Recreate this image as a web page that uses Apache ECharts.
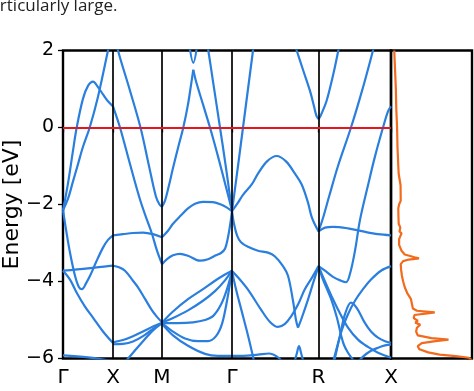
<!DOCTYPE html>
<html>
<head>
<meta charset="utf-8">
<script src="https://cdn.jsdelivr.net/npm/echarts@6/dist/echarts.min.js"></script>
<style>html,body{margin:0;padding:0;background:#fff;}#c{width:474px;height:391px;}</style>
</head>
<body>
<div id="c"></div>
<script>
// ---- data ----
const kTicks = [0, 0.5, 0.99, 1.69, 2.555, 3.28];
const kLabels = ['Γ', 'X', 'M', 'Γ', 'R', 'X'];
const energyTicks = [-6, -4, -2, 0, 2];
const fermiLevel = 0;

// Γ – X
const segGX = [
  [[0,-2.15],[0.05,-1.85],[0.1,-1.4],[0.15,-0.95],[0.2,-0.5],[0.267,0],[0.35,0.8],[0.45,2.0],[0.5,2.6]],
  [[0,-2.15],[0.05,-1.45],[0.1,-0.6],[0.137,0],[0.2,0.75],[0.25,1.08],[0.3,1.19],[0.35,1.05],[0.4,0.86],[0.45,0.68],[0.5,0.55]],
  [[0,-2.15],[0.03,-2.65],[0.07,-3.25],[0.12,-3.85],[0.16,-4.15],[0.19,-4.2],[0.23,-4.05],[0.28,-3.8],[0.33,-3.5],[0.4,-3.12],[0.45,-2.92],[0.5,-2.8]],
  [[0,-3.72],[0.25,-3.66],[0.45,-3.6],[0.5,-3.59]],
  [[0,-3.72],[0.07,-3.95],[0.137,-4.29],[0.22,-4.65],[0.303,-4.95],[0.4,-5.3],[0.5,-5.6]],
  [[0,-5.92],[0.25,-5.97],[0.5,-6.07]]
];
// X – M
const segXM = [
  [[0.5,2.6],[0.55,2.0],[0.665,1.0],[0.775,0],[0.86,-1.0],[0.93,-1.8],[0.965,-2.0],[0.99,-2.06]],
  [[0.5,0.55],[0.57,0],[0.67,-0.95],[0.77,-1.87],[0.837,-2.38],[0.887,-2.74],[0.94,-3.2],[0.99,-3.55]],
  [[0.5,-2.8],[0.6,-2.77],[0.7,-2.74],[0.8,-2.73],[0.9,-2.77],[0.99,-2.85]],
  [[0.5,-3.59],[0.56,-3.63],[0.62,-3.72],[0.7,-3.98],[0.75,-4.15],[0.82,-4.45],[0.885,-4.73],[0.94,-4.92],[0.99,-5.06]],
  [[0.5,-5.58],[0.6,-5.52],[0.7,-5.42],[0.8,-5.3],[0.9,-5.17],[0.99,-5.07]],
  [[0.5,-5.63],[0.6,-5.62],[0.7,-5.56],[0.8,-5.42],[0.9,-5.23],[0.99,-5.08]],
  [[0.5,-6.4],[0.6,-6.15],[0.7,-5.85],[0.8,-5.55],[0.9,-5.27],[0.99,-5.08]]
];
// M – Γ
const segMG = [
  [[0.99,-2.06],[1.02,-1.9],[1.06,-1.5],[1.1,-1.05],[1.15,-0.53],[1.203,0],[1.25,0.6],[1.28,1.1],[1.303,1.5]],
  [[1.303,1.5],[1.33,1.2],[1.4,0.6],[1.47,0],[1.55,-0.75],[1.62,-1.45],[1.66,-1.85],[1.69,-2.17]],
  [[1.26,2.2],[1.303,1.68],[1.345,2.2]],
  [[1.42,2.5],[1.453,2.0],[1.5,1.2],[1.57,0],[1.63,-1.05],[1.69,-2.17]],
  [[0.99,-2.85],[1.05,-2.68],[1.1,-2.5],[1.18,-2.28],[1.25,-2.1],[1.32,-1.98],[1.4,-1.93],[1.5,-1.94],[1.58,-2.0],[1.64,-2.08],[1.69,-2.17]],
  [[0.99,-3.55],[1.04,-3.42],[1.1,-3.32],[1.17,-3.28],[1.25,-3.33],[1.37,-3.46],[1.45,-3.42],[1.53,-3.32],[1.58,-3.26],[1.62,-3.15],[1.65,-2.85],[1.67,-2.55],[1.69,-2.17]],
  [[0.99,-5.07],[1.1,-4.78],[1.25,-4.46],[1.4,-4.2],[1.52,-3.98],[1.62,-3.82],[1.69,-3.72]],
  [[0.99,-5.07],[1.1,-4.95],[1.25,-4.75],[1.4,-4.5],[1.52,-4.25],[1.62,-3.97],[1.69,-3.72]],
  [[0.99,-5.08],[1.15,-5.08],[1.3,-5.06],[1.42,-5.0],[1.5,-4.9],[1.58,-4.6],[1.64,-4.2],[1.69,-3.72]],
  [[0.99,-5.08],[1.1,-5.3],[1.22,-5.48],[1.35,-5.55],[1.45,-5.55],[1.53,-5.42],[1.59,-5.1],[1.64,-4.5],[1.69,-3.72]],
  [[0.99,-5.1],[1.1,-5.4],[1.25,-5.67],[1.42,-5.88],[1.55,-5.93],[1.69,-5.93]]
];
// Γ – R
const segGR = [
  [[1.69,-2.17],[1.75,-1.0],[1.8,0],[1.85,1.0],[1.9,2.0],[1.93,2.6]],
  [[2.3,2.3],[2.337,2.0],[2.4,1.5],[2.47,0.95],[2.51,0.55],[2.535,0.3],[2.555,0.22]],
  [[1.69,-2.17],[1.75,-1.95],[1.8,-1.75],[1.887,-1.48],[1.95,-1.2],[2.04,-0.88],[2.137,-0.74],[2.23,-0.88],[2.32,-1.2],[2.387,-1.48],[2.45,-1.95],[2.49,-2.35],[2.555,-2.7]],
  [[1.69,-2.17],[1.71,-2.5],[1.74,-2.8],[1.78,-2.98],[1.85,-3.1],[1.95,-3.2],[2.05,-3.25],[2.12,-3.35],[2.2,-3.6],[2.25,-3.85],[2.3,-4.5],[2.33,-5.0],[2.35,-5.2]],
  [[2.35,-5.2],[2.38,-5.0],[2.45,-4.47],[2.5,-4.05],[2.555,-3.6]],
  [[1.69,-3.73],[1.76,-3.92],[1.85,-4.21],[1.98,-4.73],[2.07,-5.05],[2.15,-5.18],[2.22,-5.1],[2.283,-4.9],[2.35,-4.6],[2.417,-4.21],[2.49,-3.9],[2.555,-3.6]],
  [[1.69,-3.73],[1.73,-4.2],[1.783,-4.73],[1.85,-5.4],[1.9,-5.95],[1.92,-6.2]],
  [[1.69,-5.93],[1.8,-5.93],[1.95,-5.9],[2.06,-5.87],[2.14,-5.95],[2.2,-6.1]],
  [[2.31,-6.15],[2.34,-5.85],[2.36,-5.68],[2.38,-5.85],[2.41,-6.15]]
];
// R – X
const segRX = [
  [[2.555,0.22],[2.575,0.3],[2.6,0.45],[2.637,0.7],[2.7,1.35],[2.753,2.0],[2.78,2.4]],
  [[2.555,-2.7],[2.6,-2.35],[2.66,-1.8],[2.75,-1.0],[2.88,0],[2.99,0.95],[3.1,2.0],[3.14,2.4]],
  [[2.555,-2.7],[2.62,-2.6],[2.7,-2.58],[2.85,-2.62],[3.0,-2.7],[3.15,-2.77],[3.28,-2.8]],
  [[2.555,-3.6],[2.62,-3.72],[2.7,-3.88],[2.78,-3.98],[2.83,-4.02],[2.87,-3.8],[2.92,-3.2],[2.97,-2.4],[3.05,-1.5],[3.12,-0.75],[3.2,0.0],[3.25,0.42],[3.28,0.55]],
  [[2.555,-3.6],[2.6,-3.95],[2.683,-4.47],[2.74,-4.95],[2.783,-5.42],[2.81,-5.65],[2.85,-5.85],[2.92,-6.1]],
  [[2.555,-3.6],[2.62,-4.0],[2.68,-4.35],[2.75,-4.73],[2.85,-5.2],[2.95,-5.51],[3.05,-5.7],[3.15,-5.85],[3.28,-5.98]],
  [[2.7,-6.2],[2.72,-5.98],[2.78,-5.33],[2.85,-4.85],[2.92,-4.5],[3.0,-4.2],[3.08,-3.95],[3.18,-3.72],[3.28,-3.6]],
  [[2.68,-6.3],[2.72,-5.9],[2.77,-5.4],[2.82,-4.85],[2.88,-4.55],[2.94,-4.7],[3.017,-5.07],[3.08,-5.3],[3.15,-5.46],[3.22,-5.55],[3.28,-5.59]],
  [[2.95,-6.1],[3.0,-5.95],[3.08,-5.8],[3.15,-5.72],[3.22,-5.66],[3.28,-5.64]]
];

// density of states
const dosEnergy = [2.0,1.5,1.0,0.5,0,-0.5,-1.0,-1.2,-1.25,-1.5,-1.9,-2.0,-2.1,-2.3,-2.5,-2.6,-2.65,-2.7,-2.75,-2.8,-2.9,-3.05,-3.2,-3.3,-3.37,-3.4,-3.43,-3.47,-3.55,-3.7,-3.85,-4.0,-4.15,-4.3,-4.45,-4.6,-4.7,-4.76,-4.8,-4.83,-4.87,-4.95,-5.02,-5.07,-5.12,-5.2,-5.3,-5.4,-5.47,-5.51,-5.55,-5.6,-5.68,-5.76,-5.84,-5.9,-5.94,-5.98,-6.05];
const dosValue  = [0.04,0.05,0.06,0.065,0.075,0.08,0.09,0.095,0.115,0.118,0.12,0.1,0.09,0.092,0.095,0.115,0.13,0.105,0.13,0.11,0.1,0.1,0.13,0.17,0.29,0.345,0.22,0.15,0.12,0.125,0.135,0.15,0.17,0.2,0.245,0.26,0.27,0.32,0.54,0.45,0.29,0.28,0.33,0.3,0.36,0.32,0.31,0.33,0.5,0.71,0.55,0.38,0.33,0.35,0.46,0.6,0.8,0.96,1.0];

// ---- chart ----
const bandColor = '#2a7fde';
const chart = echarts.init(document.getElementById('c'), null, {renderer: 'canvas'});
const allBands = [].concat(segGX, segXM, segMG, segGR, segRX);
const series = allBands.map(b => ({
  type: 'line', xAxisIndex: 0, yAxisIndex: 0, data: b, smooth: 0.35,
  symbol: 'none', clip: true, silent: true, z: 2,
  lineStyle: {color: bandColor, width: 2.2}
}));
series.push({
  type: 'line', xAxisIndex: 0, yAxisIndex: 0, data: [], silent: true, z: 3,
  markLine: {
    silent: true, symbol: ['none', 'none'], label: {show: false},
    lineStyle: {color: '#000', width: 1.7, type: 'solid'},
    data: kTicks.slice(1, -1).map(k => ({xAxis: k}))
  }
});
series.push({
  type: 'line', xAxisIndex: 0, yAxisIndex: 0, data: [], silent: true, z: 4,
  markLine: {
    silent: true, symbol: ['none', 'none'], label: {show: false},
    lineStyle: {color: '#e3171c', width: 2, type: 'solid'},
    data: [{yAxis: fermiLevel}]
  }
});
series.push({
  type: 'line', xAxisIndex: 1, yAxisIndex: 1, symbol: 'none', silent: true, clip: true,
  data: dosEnergy.map((e, i) => [dosValue[i], e]),
  lineStyle: {color: '#f26a1b', width: 2.2}
});

const option = {
  animation: false,
  grid: [
    {left: 63, top: 50.5, width: 328, height: 308, show: true, borderColor: '#000', borderWidth: 2.4, backgroundColor: 'transparent'},
    {left: 391, top: 50.5, width: 81, height: 308, show: true, borderColor: '#000', borderWidth: 2.4, backgroundColor: 'transparent'}
  ],
  xAxis: [
    {type: 'value', gridIndex: 0, min: 0, max: 3.28,
     axisLine: {show: false}, splitLine: {show: false},
     axisTick: {show: true, customValues: kTicks, length: 5, lineStyle: {color: '#000', width: 1.3}},
     axisLabel: {show: true, customValues: kTicks, margin: 9, color: '#000', fontSize: 20, fontFamily: 'DejaVu Sans',
       formatter: v => { let best = 0; kTicks.forEach((t, i) => { if (Math.abs(t - v) < Math.abs(kTicks[best] - v)) best = i; }); return kLabels[best]; }}},
    {type: 'value', gridIndex: 1, min: 0, max: 1, show: false}
  ],
  yAxis: [
    {type: 'value', gridIndex: 0, min: -6, max: 2, interval: 2,
     axisLine: {show: false}, splitLine: {show: false},
     axisTick: {show: true, length: 5, lineStyle: {color: '#000', width: 1.3}},
     axisLabel: {margin: 9, color: '#000', fontSize: 19, fontFamily: 'DejaVu Sans',
       formatter: v => String(v).replace('-', '\u2212')}},
    {type: 'value', gridIndex: 1, min: -6, max: 2, show: false}
  ],
  graphic: [
    {type: 'text', x: 12, y: 204.5, rotation: Math.PI / 2,
     style: {text: 'Energy [eV]', font: '22px "DejaVu Sans"', fill: '#000', textAlign: 'center', textVerticalAlign: 'middle'}},
    {type: 'text', x: -20, y: 15,
     style: {text: 'particularly large.', font: '17px "Open Sans"', fill: '#222', textAlign: 'left', textVerticalAlign: 'bottom'}}
  ],
  series: series
};
chart.setOption(option);
</script>
</body>
</html>
